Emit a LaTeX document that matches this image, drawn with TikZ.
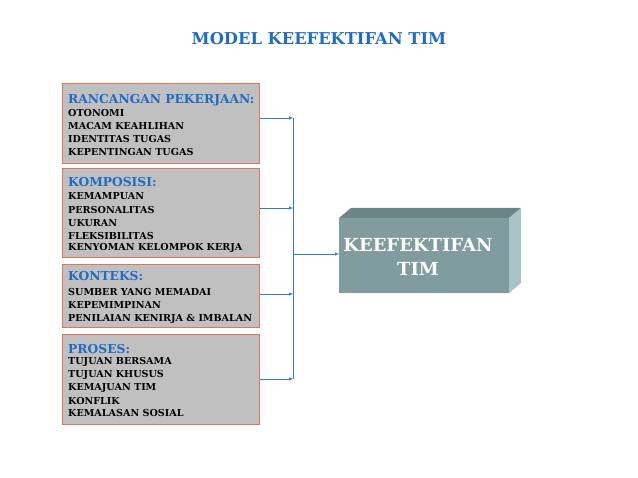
\documentclass[tikz,border=0pt]{standalone}
\usepackage{fontspec}
\setmainfont{DejaVu Serif}[BoldFont={DejaVu Serif Bold}]
\begin{document}
\begin{tikzpicture}[x=1pt,y=-1pt,
  panel/.style={draw=panelborder,fill=panelfill,line width=0.8pt},
  head/.style={anchor=west,text=headblue,font=\bfseries\fontsize{12.3}{13}\selectfont,inner sep=0},
  item/.style={anchor=west,font=\bfseries\fontsize{9.6}{10}\selectfont,inner sep=0},
  conn/.style={draw=connblue,line width=0.6pt},
  arr/.style={conn,-{Latex[length=4pt,width=3.5pt]}}]
\usetikzlibrary{arrows.meta}
\definecolor{panelborder}{HTML}{E2765A}
\definecolor{panelfill}{HTML}{C0C0C0}
\definecolor{headblue}{HTML}{1F6CC4}
\definecolor{connblue}{HTML}{3A78C8}
\definecolor{front}{HTML}{809C9E}
\definecolor{topc}{HTML}{6B8486}
\definecolor{side}{HTML}{A7C5C8}
\useasboundingbox (0,0) rectangle (638,478);
\node[text=headblue,font=\bfseries\fontsize{16.3}{18}\selectfont] (title) at (319,39) {MODEL KEEFEKTIFAN TIM};
% panels
\node[panel,minimum width=197,minimum height=80,anchor=north west,inner sep=0] (p1) at (62,83) {};
\node[panel,minimum width=197,minimum height=89,anchor=north west,inner sep=0] (p2) at (62,168) {};
\node[panel,minimum width=197,minimum height=63,anchor=north west,inner sep=0] (p3) at (62,264) {};
\node[panel,minimum width=197,minimum height=90,anchor=north west,inner sep=0] (p4) at (62,334) {};
\node[head] (h1) at (68,100) {RANCANGAN PEKERJAAN:};
\node[item] (a1) at (68,113) {OTONOMI};
\node[item] (a2) at (68,126) {MACAM KEAHLIHAN};
\node[item] (a3) at (68,139) {IDENTITAS TUGAS};
\node[item] (a4) at (68,152) {KEPENTINGAN TUGAS};
\node[head] (h2) at (68,182) {KOMPOSISI:};
\node[item] (b1) at (68,196) {KEMAMPUAN};
\node[item] (b2) at (68,210) {PERSONALITAS};
\node[item] (b3) at (68,223) {UKURAN};
\node[item] (b4) at (68,236) {FLEKSIBILITAS};
\node[item] (b5) at (68,248) {KENYOMAN KELOMPOK KERJA};
\node[head] (h3) at (68,276) {KONTEKS:};
\node[item] (c1) at (68,292) {SUMBER YANG MEMADAI};
\node[item] (c2) at (68,305) {KEPEMIMPINAN};
\node[item] (c3) at (68,319) {PENILAIAN KENIRJA \& IMBALAN};
\node[head] (h4) at (68,349) {PROSES:};
\node[item] (d1) at (68,362) {TUJUAN BERSAMA};
\node[item] (d2) at (68,375) {TUJUAN KHUSUS};
\node[item] (d3) at (68,388) {KEMAJUAN TIM};
\node[item] (d4) at (68,401) {KONFLIK};
\node[item] (d5) at (68,413) {KEMALASAN SOSIAL};
% 3D box
\fill[topc] (339,218) -- (351,208) -- (521,208) -- (509,218) -- cycle;
\fill[side] (509,218) -- (521,208) -- (521,283) -- (509,293) -- cycle;
\node[fill=front,minimum width=170,minimum height=75,anchor=north west,inner sep=0] (res) at (339,218) {};
\node[text=white,font=\bfseries\fontsize{18}{24}\selectfont,align=center] (rt) at (418,257) {KEEFEKTIFAN\\TIM};
% connectors
\coordinate (j1) at (293,118);
\coordinate (j2) at (293,208);
\coordinate (j3) at (293,294);
\coordinate (j4) at (293,379);
\coordinate (jm) at (293,254);
\draw[arr] (p1.east |- j1) -- (j1);
\draw[arr] (p2.east |- j2) -- (j2);
\draw[arr] (p3.east |- j3) -- (j3);
\draw[arr] (p4.east |- j4) -- (j4);
\draw[conn] (j1) -- (j4);
\draw[arr] (jm) -- (res.west |- jm);
\end{tikzpicture}
\end{document}
